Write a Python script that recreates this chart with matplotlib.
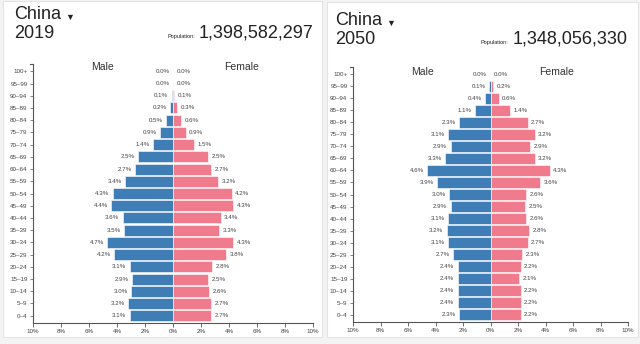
import matplotlib
matplotlib.use("Agg")
import matplotlib.pyplot as plt
from matplotlib.patches import Rectangle

ages = ["100+", "95–99", "90–94", "85–89", "80–84", "75–79", "70–74", "65–69",
        "60–64", "55–59", "50–54", "45–49", "40–44", "35–39", "30–34", "25–29",
        "20–24", "15–19", "10–14", "5–9", "0–4"]

male_2019 = [0.0, 0.0, 0.1, 0.2, 0.5, 0.9, 1.4, 2.5, 2.7, 3.4, 4.3, 4.4, 3.6, 3.5,
             4.7, 4.2, 3.1, 2.9, 3.0, 3.2, 3.1]
female_2019 = [0.0, 0.0, 0.1, 0.3, 0.6, 0.9, 1.5, 2.5, 2.7, 3.2, 4.2, 4.3, 3.4, 3.3,
               4.3, 3.8, 2.8, 2.5, 2.6, 2.7, 2.7]
male_2050 = [0.0, 0.1, 0.4, 1.1, 2.3, 3.1, 2.9, 3.3, 4.6, 3.9, 3.0, 2.9, 3.1, 3.2,
             3.1, 2.7, 2.4, 2.4, 2.4, 2.4, 2.3]
female_2050 = [0.0, 0.2, 0.6, 1.4, 2.7, 3.2, 2.9, 3.2, 4.3, 3.6, 2.6, 2.5, 2.6, 2.8,
               2.7, 2.3, 2.2, 2.1, 2.2, 2.2, 2.2]

xticks = [-10, -8, -6, -4, -2, 0, 2, 4, 6, 8, 10]
xticklabels = ["10%", "8%", "6%", "4%", "2%", "0%", "2%", "4%", "6%", "8%", "10%"]

panels = [
    dict(country="China", year="2019", pop="1,398,582,297",
         male=male_2019, female=female_2019),
    dict(country="China", year="2050", pop="1,348,056,330",
         male=male_2050, female=female_2050),
]

W, H = 640, 344
BLUE = "#3f7db7"
PINK = "#f07b8c"
TXT = "#444444"
AX = "#555555"
FAM = ["Liberation Sans", "DejaVu Sans"]

fig = plt.figure(figsize=(W / 100, H / 100), dpi=100)
fig.patch.set_facecolor("#f3f3f3")

def fx(px):
    return px / W

def fy(py):
    return 1 - py / H

# cards
for (x0, y0, x1, y1) in [(3, 1, 322, 337), (327, 2, 638, 337)]:
    fig.patches.append(Rectangle((fx(x0), fy(y1)), fx(x1 - x0), (y1 - y0) / H,
                                 transform=fig.transFigure, facecolor="white",
                                 edgecolor="#e4e4e4", lw=0.8, zorder=-10))

layout = [
    dict(ax=(33, 64, 313, 323), title=(14, 19), year=(14, 38), popnum=(313, 38),
         poplbl=(195, 38), male=(103, 67), female=(242, 67)),
    dict(ax=(353, 67, 628, 322), title=(335, 25), year=(335, 44), popnum=(628, 44),
         poplbl=(508, 44), male=(422, 72), female=(557, 72)),
]

for p, L in zip(panels, layout):
    x0, y0, x1, y1 = L["ax"]
    ax = fig.add_axes([fx(x0), fy(y1), (x1 - x0) / W, (y1 - y0) / H], zorder=5)
    ax.set_facecolor("none")
    n = len(ages)
    ypos = list(range(n - 1, -1, -1))
    ax.barh(ypos, [-v for v in p["male"]], height=0.9, color=BLUE,
            edgecolor="white", linewidth=0.4)
    ax.barh(ypos, p["female"], height=0.9, color=PINK,
            edgecolor="white", linewidth=0.4)
    for y, m, f in zip(ypos, p["male"], p["female"]):
        ax.text(-m - 0.25, y, f"{m:.1f}%", ha="right", va="center",
                fontsize=4.4, color=TXT, family=FAM)
        ax.text(f + 0.25, y, f"{f:.1f}%", ha="left", va="center",
                fontsize=4.4, color=TXT, family=FAM)
    ax.set_xlim(-10, 10)
    ax.set_ylim(-0.6, n - 0.4)
    ax.set_yticks(ypos)
    ax.set_yticklabels(ages, fontsize=4.5, color=TXT, family=FAM)
    ax.set_xticks(xticks)
    ax.set_xticklabels(xticklabels, fontsize=4.5, color=TXT, family=FAM)
    for s in ["top", "right"]:
        ax.spines[s].set_visible(False)
    for s in ["left", "bottom"]:
        ax.spines[s].set_color(AX)
        ax.spines[s].set_linewidth(0.8)
    ax.tick_params(axis="y", length=2, width=0.5, color=AX, pad=2)
    ax.tick_params(axis="x", length=3, width=0.6, color=AX, pad=1)
    # outer tick at the top of the vertical axis
    ax.plot([-0.012, 0], [1, 1], transform=ax.transAxes, color=AX, lw=0.8,
            clip_on=False)

    tx, ty = L["title"]
    fig.text(fx(tx), fy(ty), p["country"], fontsize=13, color="#222222",
             family=FAM, ha="left", va="baseline")
    fig.text(fx(tx + 51), fy(ty + 1), "▼", fontsize=6.5, color="#222222",
             family=FAM, ha="left", va="baseline")
    yx, yy = L["year"]
    fig.text(fx(yx), fy(yy), p["year"], fontsize=13, color="#222222",
             family=FAM, ha="left", va="baseline")
    nx, ny = L["popnum"]
    fig.text(fx(nx), fy(ny), p["pop"], fontsize=13, color="#222222",
             family=FAM, ha="right", va="baseline")
    lx, ly = L["poplbl"]
    fig.text(fx(lx), fy(ly), "Population:", fontsize=4, color="#222222",
             family=FAM, ha="right", va="baseline")
    mx, my = L["male"]
    fig.text(fx(mx), fy(my), "Male", fontsize=7.5, color="#333333",
             family=FAM, ha="center", va="center")
    gx, gy = L["female"]
    fig.text(fx(gx), fy(gy), "Female", fontsize=7.5, color="#333333",
             family=FAM, ha="center", va="center")

fig.savefig("out.png", dpi=100, facecolor=fig.get_facecolor())
